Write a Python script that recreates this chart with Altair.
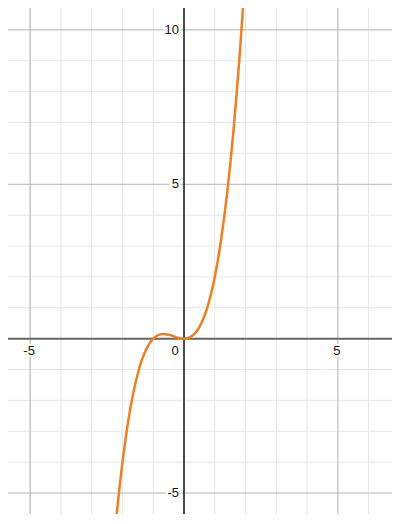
import altair as alt
import pandas as pd

# Curve samples
curve_x = [-2.25, -2.2, -2.1, -2.0, -1.9, -1.8, -1.7, -1.6, -1.5, -1.4, -1.3, -1.2, -1.1, -1.0,
           -0.9, -0.8, -0.7, -0.6, -0.5, -0.4, -0.3, -0.2, -0.1, 0.0, 0.1, 0.2, 0.3, 0.4, 0.5,
           0.6, 0.7, 0.8, 0.9, 1.0, 1.1, 1.2, 1.3, 1.4, 1.5, 1.6, 1.7, 1.8, 1.9, 2.0]
curve_y = [-6.33, -5.81, -4.85, -4.0, -3.25, -2.59, -2.02, -1.54, -1.13, -0.78, -0.51, -0.29, -0.12, 0.0,
           0.08, 0.13, 0.15, 0.14, 0.125, 0.10, 0.06, 0.03, 0.009, 0.0, 0.011, 0.048, 0.117, 0.224, 0.375,
           0.576, 0.833, 1.152, 1.539, 2.0, 2.54, 3.17, 3.89, 4.70, 5.63, 6.66, 7.80, 9.07, 10.47, 12.0]

# Grid lines
minor_x = [-5, -4, -3, -2, -1, 1, 2, 3, 4, 6, 7]
minor_y = [-6, -4, -3, -2, -1, 1, 2, 3, 4, 6, 7, 8, 9]
major_x = [-5, 5]
major_y = [-5, 5, 10]

# Tick labels
x_label_pos = [-5, 5]
x_label_text = ["-5", "5"]
y_label_pos = [10, 5, -5]
y_label_text = ["10", "5", "-5"]
origin_label = ["0"]

x_dom = [-5.72, 6.76]
y_dom = [-5.68, 10.71]

xs = alt.Scale(domain=x_dom, nice=False, zero=False)
ys = alt.Scale(domain=y_dom, nice=False, zero=False)

curve_df = pd.DataFrame({"x": curve_x, "y": curve_y})

minor_v = alt.Chart(pd.DataFrame({"x": minor_x})).mark_rule(color="#e6e6e6", strokeWidth=1).encode(
    x=alt.X("x:Q", scale=xs, axis=None))
minor_h = alt.Chart(pd.DataFrame({"y": minor_y})).mark_rule(color="#e6e6e6", strokeWidth=1).encode(
    y=alt.Y("y:Q", scale=ys, axis=None))
major_v = alt.Chart(pd.DataFrame({"x": major_x})).mark_rule(color="#b4b4b4", strokeWidth=1).encode(
    x=alt.X("x:Q", scale=xs, axis=None))
major_h = alt.Chart(pd.DataFrame({"y": major_y})).mark_rule(color="#b4b4b4", strokeWidth=1).encode(
    y=alt.Y("y:Q", scale=ys, axis=None))
axis_h = alt.Chart(pd.DataFrame({"y": [0]})).mark_rule(color="#666666", strokeWidth=2).encode(
    y=alt.Y("y:Q", scale=ys, axis=None))
axis_v = alt.Chart(pd.DataFrame({"x": [0]})).mark_rule(color="#111111", strokeWidth=1.5).encode(
    x=alt.X("x:Q", scale=xs, axis=None))

curve = alt.Chart(curve_df).mark_line(color="#f07f22", strokeWidth=2.5, clip=True,
                                      interpolate="monotone").encode(
    x=alt.X("x:Q", scale=xs, axis=None),
    y=alt.Y("y:Q", scale=ys, axis=None),
    order="x:Q")

font = "Liberation Sans, Arial, sans-serif"

xl_df = pd.DataFrame({"x": x_label_pos, "t": x_label_text, "y": [0, 0]})
yl_df = pd.DataFrame({"y": y_label_pos, "t": y_label_text, "x": [0, 0, 0]})
ol_df = pd.DataFrame({"x": [0], "y": [0], "t": origin_label})

def labels(df, dx, dy, align):
    halo = alt.Chart(df).mark_text(font=font, fontSize=13, align=align, baseline="middle",
                                   dx=dx, dy=dy, stroke="white", strokeWidth=4, color="white").encode(
        x=alt.X("x:Q", scale=xs, axis=None), y=alt.Y("y:Q", scale=ys, axis=None), text="t:N")
    txt = alt.Chart(df).mark_text(font=font, fontSize=13, align=align, baseline="middle",
                                  dx=dx, dy=dy, color="#111111").encode(
        x=alt.X("x:Q", scale=xs, axis=None), y=alt.Y("y:Q", scale=ys, axis=None), text="t:N")
    return halo + txt

chart = alt.layer(
    minor_v, minor_h, major_v, major_h, axis_h, axis_v, curve,
    labels(xl_df, -1, 12, "center"),
    labels(yl_df, -5, 0, "right"),
    labels(ol_df, -9, 12, "center"),
).properties(
    width=384, height=506, padding=0, autosize=alt.AutoSizeParams(type="none"),
    background="white"
).configure_view(stroke=None)

chart.save("out.html", embed_options={"renderer": "svg", "actions": False})
